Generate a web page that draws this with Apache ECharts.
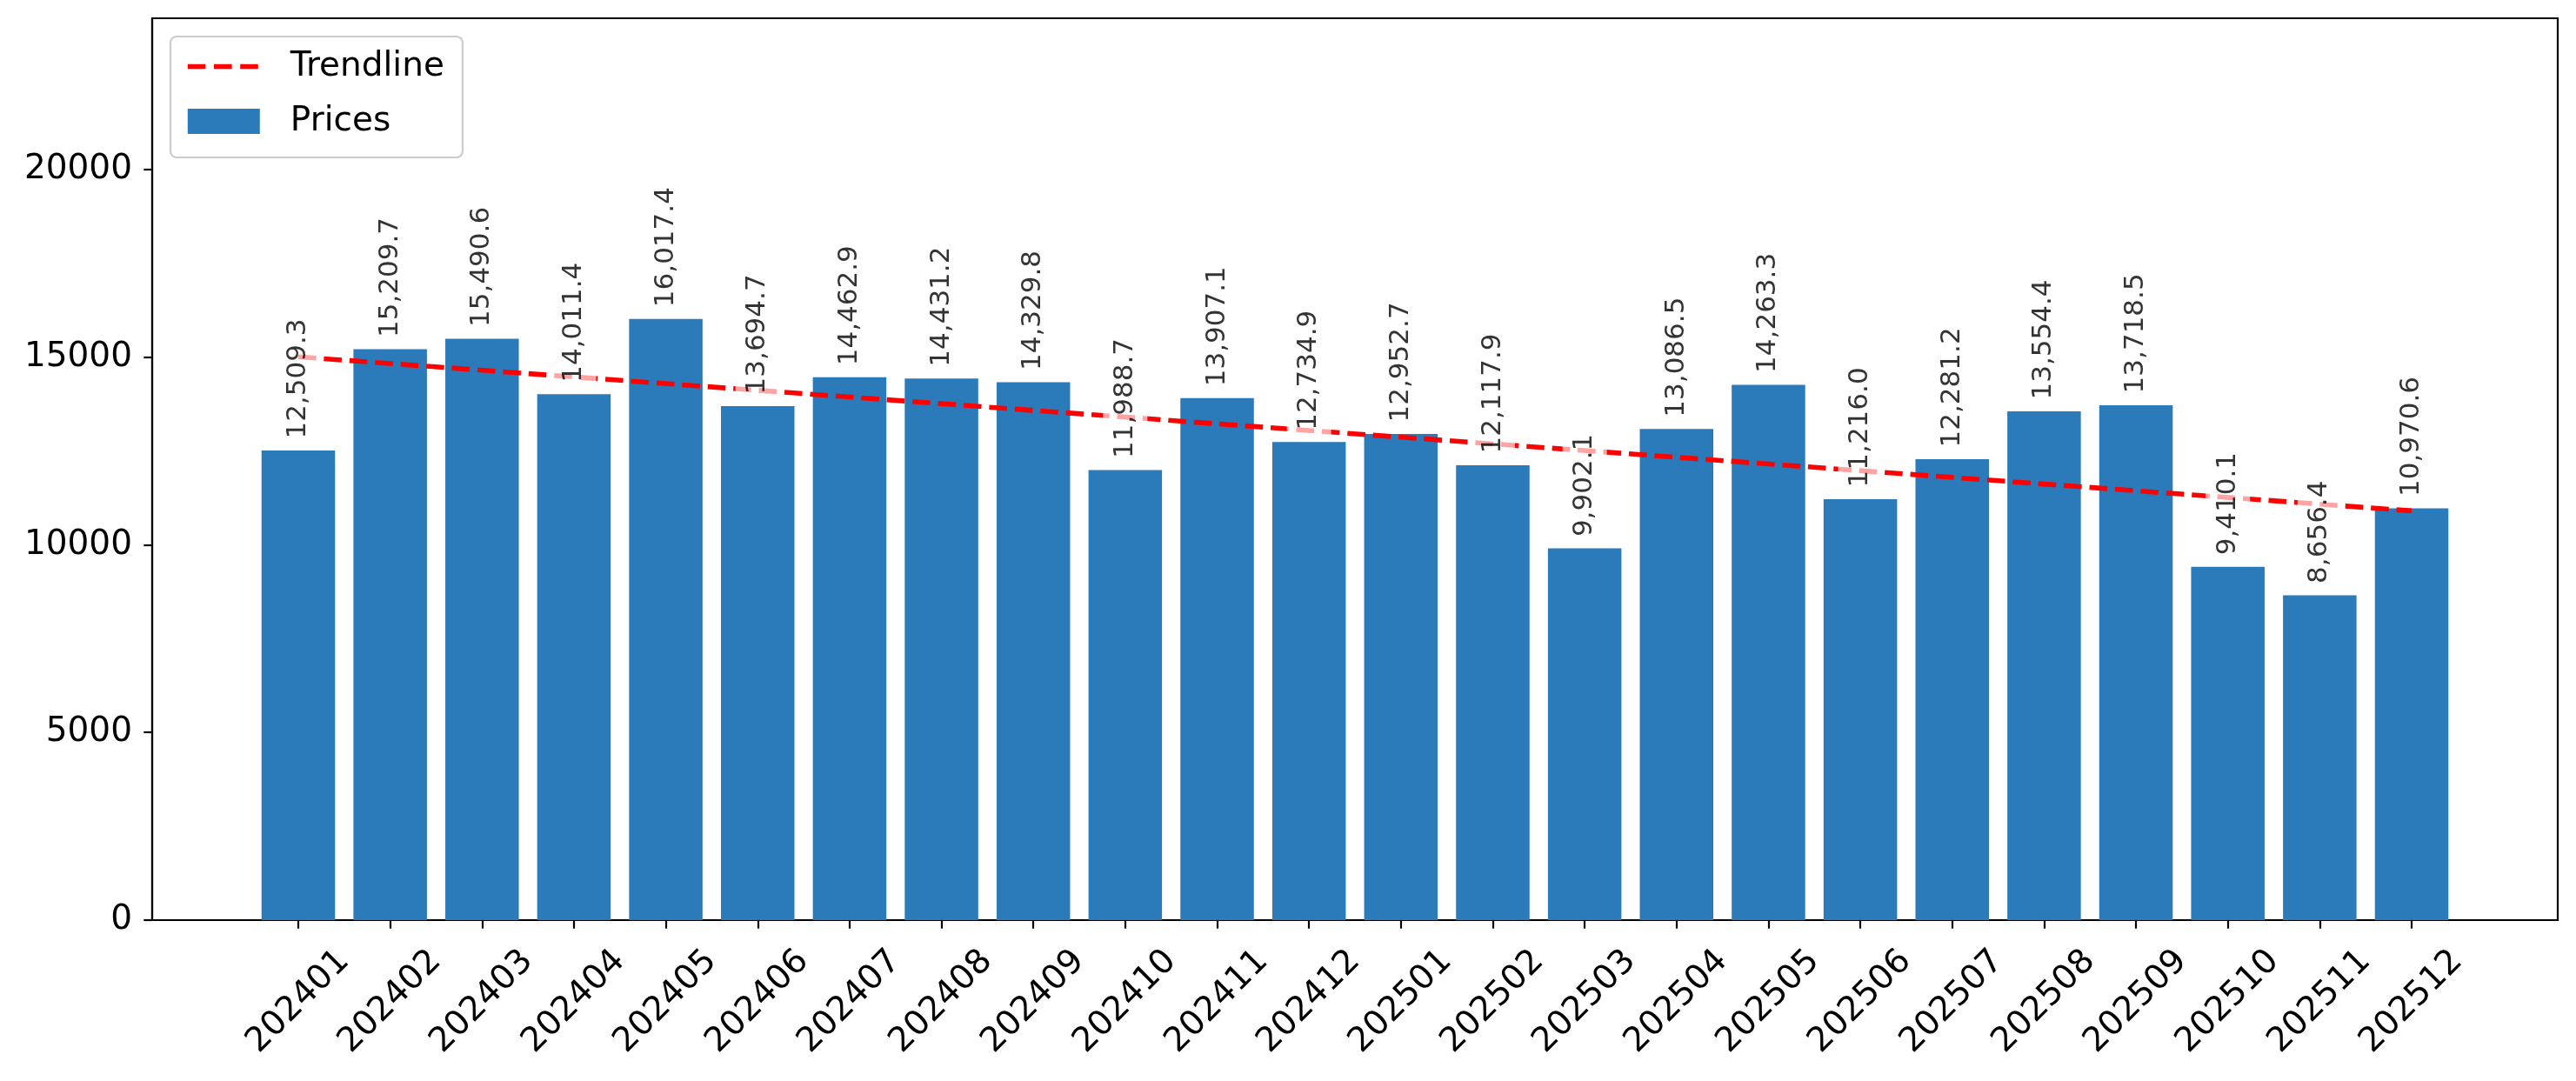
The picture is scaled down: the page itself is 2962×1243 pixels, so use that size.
<!DOCTYPE html>
<html>
<head>
<meta charset="utf-8">
<script src="https://cdn.jsdelivr.net/npm/echarts@6/dist/echarts.min.js"></script>
<style>
html,body{margin:0;padding:0;background:#fff;}
#chart{width:2962px;height:1243px;}
</style>
</head>
<body>
<div id="chart"></div>
<script>
const categories = ['202401','202402','202403','202404','202405','202406','202407','202408','202409','202410','202411','202412',
  '202501','202502','202503','202504','202505','202506','202507','202508','202509','202510','202511','202512'];
const prices = [12509.3,15209.7,15490.6,14011.4,16017.4,13694.7,14462.9,14431.2,14329.8,11988.7,13907.1,12734.9,
  12952.7,12117.9,9902.1,13086.5,14263.3,11216.0,12281.2,13554.4,13718.5,9410.1,8656.4,10970.6];
const trendStart = 15006.6;
const trendEnd = 10903.2;
const yTicks = [0,5000,10000,15000,20000];

const idx = categories.map((c,i)=>i);
const barData = prices.map((v,i)=>[i,v]);
const trendData = [[0,trendStart],[categories.length-1,trendEnd]];
const yMax = Math.max(...prices)*1.5;
const xMin = -0.4 - 0.05*(categories.length-1+0.8);
const xMax = categories.length-1+0.4 + 0.05*(categories.length-1+0.8);

const FONT = 'DejaVu Sans';
const fmt = v => v.toLocaleString('en-US',{minimumFractionDigits:1,maximumFractionDigits:1});

const chart = echarts.init(document.getElementById('chart'), null, {renderer:'canvas'});
chart.setOption({
  animation:false,
  backgroundColor:'#fff',
  textStyle:{fontFamily:FONT},
  grid:{left:175,right:21,top:21,bottom:185,show:true,borderColor:'#000',borderWidth:2.2,backgroundColor:'transparent'},
  legend:{
    orient:'vertical',left:196,top:42,
    padding:[15,21,22,17],
    itemWidth:83,itemHeight:29,itemGap:24,
    backgroundColor:'rgba(255,255,255,0.8)',
    borderColor:'#cccccc',borderWidth:2.2,borderRadius:7,
    textStyle:{fontFamily:FONT,fontSize:39,color:'#000',lineHeight:39,padding:[0,0,0,30]},
    data:[
      {name:'Trendline',itemStyle:{opacity:0},lineStyle:{color:'#ff0000',width:5.6,type:[20.6,9.6],opacity:1}},
      {name:'Prices',icon:'rect'}
    ]
  },
  xAxis:{
    type:'value',min:xMin,max:xMax,
    splitLine:{show:false},
    axisLine:{show:true,onZero:false,lineStyle:{color:'#000',width:2.2}},
    axisTick:{show:true,length:9.7,lineStyle:{color:'#000',width:2.2},customValues:idx},
    axisLabel:{show:true,customValues:idx,formatter:v=>categories[Math.round(v)],rotate:45,align:'center',verticalAlign:'middle',
      margin:94,fontFamily:FONT,fontSize:39,color:'#000'}
  },
  yAxis:{
    type:'value',min:0,max:yMax,
    splitLine:{show:false},
    axisLine:{show:true,onZero:false,lineStyle:{color:'#000',width:2.2}},
    axisTick:{show:true,length:9.7,lineStyle:{color:'#000',width:2.2},customValues:yTicks},
    axisLabel:{show:true,customValues:yTicks,formatter:v=>String(Math.round(v)),margin:23,fontFamily:FONT,fontSize:39,color:'#000'}
  },
  series:[
    {
      name:'Prices',type:'bar',data:barData,barWidth:'80%',z:1,
      itemStyle:{color:'#2b7bba'}
    },
    {
      name:'Trendline',type:'line',data:trendData,z:3,symbol:'none',showSymbol:false,
      lineStyle:{color:'#ff0000',width:5.6,type:[20.6,8.9],cap:'butt'},
      itemStyle:{color:'#ff0000'}
    },
    {
      name:'labels',type:'scatter',data:barData,z:5,symbolSize:1,
      itemStyle:{color:'rgba(0,0,0,0)'},
      silent:true,
      label:{show:true,position:'top',distance:4,rotate:90,align:'left',verticalAlign:'middle',
        formatter:p=>fmt(p.value[1]),fontFamily:FONT,fontSize:31,color:'#000',
        backgroundColor:'rgba(255,255,255,0.8)',padding:[10,9,10,9]}
    }
  ]
});
</script>
</body>
</html>
